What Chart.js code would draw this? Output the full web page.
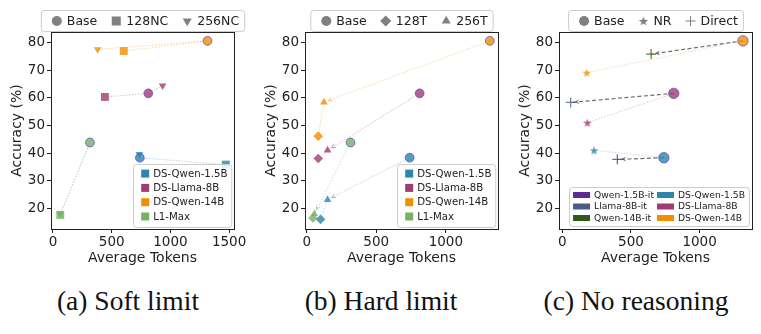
<!DOCTYPE html>
<html>
<head>
<meta charset="utf-8">
<script src="https://cdn.jsdelivr.net/npm/chart.js@4"></script>
<style>
  body { margin: 0; background: #fff; width: 761px; height: 334px; position: relative; overflow: hidden; }
  canvas { position: absolute; top: 0; }
  .cap { position: absolute; top: 287px; width: 240px; text-align: center; font-family: "Liberation Serif", serif; font-size: 27.5px; line-height: 27px; color: #111; white-space: nowrap; }
</style>
</head>
<body>
<canvas id="soft" width="254" height="270" style="left:0"></canvas>
<canvas id="hard" width="254" height="270" style="left:254px"></canvas>
<canvas id="nr" width="253" height="270" style="left:508px"></canvas>
<div class="cap" style="left:8px">(a) Soft limit</div>
<div class="cap" style="left:261px">(b) Hard limit</div>
<div class="cap" style="left:516px">(c) No reasoning</div>
<script>
// reasoning models
const models = ["DS-Qwen-1.5B", "DS-Llama-8B", "DS-Qwen-14B", "L1-Max"];
const modelColors = ["#2e86ab", "#a23b72", "#f18f01", "#76b060"];
const baseTokens = [740, 812, 1316, 315];
const baseAcc = [38.3, 61.6, 80.6, 43.8];

// (a) soft limit
const soft128Tokens = [1472, 442, 603, 62];
const soft128Acc = [35.8, 60.3, 76.9, 17.6];
const soft256Tokens = [735, 934, 380, 62];
const soft256Acc = [39.6, 64.4, 77.5, 18.0];

// (b) hard limit
const hard128Tokens = [100, 83, 83, 45];
const hard128Acc = [16.0, 38.0, 46.1, 16.5];
const hard256Tokens = [150, 150, 124, 55];
const hard256Acc = [23.1, 41.0, 58.4, 18.0];

// (c) no reasoning (first three models only)
const nrTokens = [231, 183, 178];
const nrAcc = [41.0, 51.0, 69.1];
const directModels = ["Qwen-1.5B-it", "Llama-8B-it", "Qwen-14B-it"];
const directColors = ["#5c2d91", "#4c5a8c", "#2f5a17"];
const directTokens = [401, 61, 647];
const directAcc = [37.7, 58.3, 75.8];

const yTicks = [20, 30, 40, 50, 60, 70, 80];
const xTicksSoft = [0, 500, 1000, 1500];
const xTicksShort = [0, 500, 1000];

Chart.defaults.font.family = '"DejaVu Sans", sans-serif';
Chart.defaults.color = "#222";
Chart.defaults.animation = false;

const hexA = (hex, a) => {
  const n = parseInt(hex.slice(1), 16);
  return `rgba(${(n >> 16) & 255},${(n >> 8) & 255},${n & 255},${a})`;
};

function starImage(color, r) {
  const c = document.createElement("canvas");
  const s = Math.ceil(r * 2 + 2);
  c.width = s; c.height = s;
  const g = c.getContext("2d");
  g.beginPath();
  for (let i = 0; i < 10; i++) {
    const rr = i % 2 ? r * 0.42 : r;
    const a = -Math.PI / 2 + i * Math.PI / 5;
    g.lineTo(s / 2 + rr * Math.cos(a), s / 2 + 0.5 + rr * Math.sin(a));
  }
  g.closePath();
  g.fillStyle = color;
  g.fill();
  return c;
}

const pts = (xs, ys) => xs.map((x, i) => ({ x, y: ys[i] }));

function markers(label, xs, ys, colors, style, radius, extra) {
  return Object.assign({
    label, data: pts(xs, ys), pointStyle: style, pointRadius: radius,
    backgroundColor: colors.map(c => hexA(c, 0.8)),
    borderColor: colors.map(c => hexA(c, 0.8)), borderWidth: 0, order: 1
  }, extra || {});
}

const baseEdge = { borderColor: "rgba(85,75,205,0.75)", borderWidth: 1 };

function link(x0, y0, x1, y1, color, dash, width, arrow) {
  return {
    data: [{ x: x0, y: y0 }, { x: x1, y: y1 }],
    showLine: true, borderColor: color, borderWidth: width, borderDash: dash,
    pointRadius: 0, pointHoverRadius: 0, order: 2, arrow
  };
}

function axes(xMin, xMax, xTicks) {
  return {
    x: {
      type: "linear", min: xMin, max: xMax,
      afterBuildTicks: s => { s.ticks = xTicks.map(v => ({ value: v })); },
      afterFit: s => { s.height = 41; s.paddingLeft = 0; s.paddingRight = 0; },
      grid: { drawOnChartArea: false, drawTicks: true, tickLength: 4, color: "#222" },
      border: { display: true, color: "#222" },
      ticks: { font: { size: 13.5 }, color: "#222", padding: 1, maxRotation: 0, autoSkip: false, callback: v => String(v) },
      title: { display: true, text: "Average Tokens", font: { size: 14 }, color: "#222", padding: { top: 0, bottom: 3 } }
    },
    y: {
      type: "linear", min: 12.5, max: 83.8,
      afterBuildTicks: s => { s.ticks = yTicks.map(v => ({ value: v })); },
      afterFit: s => { s.width = 51; s.paddingTop = 0; s.paddingBottom = 0; },
      grid: { drawOnChartArea: false, drawTicks: true, tickLength: 4, color: "#222" },
      border: { display: true, color: "#222" },
      ticks: { font: { size: 13.5 }, color: "#222", padding: 2, callback: v => String(v) },
      title: { display: true, text: "Accuracy (%)", font: { size: 14 }, color: "#222", padding: { top: 9, bottom: 0 } }
    }
  };
}

function roundBox(ctx, x, y, w, h) {
  ctx.beginPath();
  ctx.roundRect(x, y, w, h, 3);
  ctx.fillStyle = "rgba(255,255,255,0.85)";
  ctx.fill();
  ctx.strokeStyle = "#cccccc";
  ctx.lineWidth = 1;
  ctx.stroke();
}

function drawMarker(ctx, m, x, y) {
  if (m.img) { ctx.drawImage(m.img, x - m.img.width / 2, y - m.img.height / 2); return; }
  ctx.fillStyle = "#808080";
  ctx.strokeStyle = "#808080";
  Chart.helpers.drawPoint(ctx, { pointStyle: m.style, radius: m.radius, rotation: m.rotation || 0, borderWidth: m.border || 0 }, x, y);
}

function topLegend(chart, entries) {
  const ctx = chart.ctx, a = chart.chartArea;
  ctx.save();
  ctx.font = '12.5px "DejaVu Sans"';
  const w = entries.map(e => ctx.measureText(e.label).width);
  const total = 16 + w.reduce((s, v) => s + v, 0) + entries.length * 10 + (entries.length - 1) * 19 + 5;
  const left = (a.left + a.right) / 2 - total / 2;
  roundBox(ctx, left + 0.5, 10.5, total, 21);
  let px = left + 16;
  entries.forEach((e, i) => {
    drawMarker(ctx, e, px, 21);
    ctx.fillStyle = "#222";
    ctx.textBaseline = "middle";
    ctx.fillText(e.label, px + 10, 21.5);
    px += 10 + w[i] + 19;
  });
  ctx.restore();
}

function colorLegend(chart, cols, opts) {
  const ctx = chart.ctx, a = chart.chartArea;
  ctx.save();
  ctx.font = opts.font + 'px "DejaVu Sans"';
  const colW = cols.map(col => Math.max(...col.map(e => ctx.measureText(e.label).width)));
  let width = opts.pad;
  colW.forEach((cw, k) => { width += opts.sw + opts.gap + cw + (k < cols.length - 1 ? opts.colSep : 0); });
  width += 4;
  const rows = Math.max(...cols.map(c => c.length));
  const height = opts.rowTop * 2 + (rows - 1) * opts.rowStep;
  const left = a.right - opts.inset - width, top = a.bottom - opts.inset - height;
  roundBox(ctx, Math.round(left) + 0.5, Math.round(top) + 0.5, width, height);
  let cx = left + opts.pad;
  cols.forEach((col, k) => {
    col.forEach((e, r) => {
      const cy = top + opts.rowTop + r * opts.rowStep;
      ctx.fillStyle = e.color;
      ctx.fillRect(cx, cy - opts.sh / 2, opts.sw, opts.sh);
      ctx.fillStyle = "#222";
      ctx.textBaseline = "middle";
      ctx.fillText(e.label, cx + opts.sw + opts.gap, cy + 0.5);
    });
    cx += opts.sw + opts.gap + colW[k] + opts.colSep;
  });
  ctx.restore();
}

const framePlugin = {
  id: "frame",
  afterDatasetsDraw(chart) {
    const ctx = chart.ctx, a = chart.chartArea;
    // arrowheads on linked datasets
    chart.data.datasets.forEach((ds, i) => {
      if (!ds.arrow) return;
      const p = chart.getDatasetMeta(i).data;
      const s = p[0], e = p[p.length - 1];
      const ang = Math.atan2(e.y - s.y, e.x - s.x);
      const tx = e.x - Math.cos(ang) * ds.arrow.shrink, ty = e.y - Math.sin(ang) * ds.arrow.shrink;
      const L = ds.arrow.size;
      ctx.save();
      ctx.strokeStyle = ds.arrow.color;
      ctx.lineWidth = ds.arrow.width;
      ctx.beginPath();
      for (const sg of [-1, 1]) {
        ctx.moveTo(tx - Math.cos(ang + sg * 0.5) * L, ty - Math.sin(ang + sg * 0.5) * L);
        ctx.lineTo(tx, ty);
      }
      ctx.stroke();
      ctx.restore();
    });
    ctx.save();
    ctx.strokeStyle = "#222";
    ctx.lineWidth = 1;
    ctx.strokeRect(Math.round(a.left) + 0.5, Math.round(a.top) + 0.5, Math.round(a.right - a.left), Math.round(a.bottom - a.top));
    ctx.restore();
  }
};

const modelLegend = models.map((m, i) => ({ label: m, color: modelColors[i] }));
const smallLegendOpts = { font: 10.2, pad: 8, sw: 8, sh: 8, gap: 4, colSep: 0, rowTop: 10, rowStep: 14.3, inset: 2.5 };

function makeChart(id, datasets, xMin, xMax, xTicks, padRight, legendEntries, cols, lopts) {
  return new Chart(document.getElementById(id), {
    type: "scatter",
    data: { datasets },
    options: {
      responsive: false,
      events: [],
      layout: { padding: { left: 0, right: padRight, top: 32, bottom: 0 } },
      scales: axes(xMin, xMax, xTicks),
      plugins: { legend: { display: false }, tooltip: { enabled: false } }
    },
    plugins: [framePlugin, {
      id: "legends",
      afterDraw(chart) {
        topLegend(chart, legendEntries);
        colorLegend(chart, cols, lopts);
      }
    }]
  });
}

// (a) Soft limit
const softSets = [
  markers("Base", baseTokens, baseAcc, modelColors, "circle", 4.4, baseEdge),
  markers("128NC", soft128Tokens, soft128Acc, modelColors, "rect", 5.6),
  markers("256NC", soft256Tokens, soft256Acc, modelColors, "triangle", 4.4, { rotation: 180 })
];
models.forEach((m, i) => {
  const c = hexA(modelColors[i], 0.35);
  softSets.push(link(baseTokens[i], baseAcc[i], soft128Tokens[i], soft128Acc[i], c, [1.5, 1.5], 1));
  softSets.push(link(baseTokens[i], baseAcc[i], soft256Tokens[i], soft256Acc[i], c, [1.5, 1.5], 1));
});
makeChart("soft", softSets, -17, 1542, xTicksSoft, 20,
  [{ label: "Base", style: "circle", radius: 5 }, { label: "128NC", style: "rect", radius: 6.4 }, { label: "256NC", style: "triangle", radius: 5.2, rotation: 180 }],
  [modelLegend], smallLegendOpts);

// (b) Hard limit: base -> 256T -> 128T
const hardSets = [
  markers("Base", baseTokens, baseAcc, modelColors, "circle", 4.4, baseEdge),
  markers("128T", hard128Tokens, hard128Acc, modelColors, "rectRot", 4.8),
  markers("256T", hard256Tokens, hard256Acc, modelColors, "triangle", 4.4)
];
models.forEach((m, i) => {
  const c = hexA(modelColors[i], 0.35);
  const head = { color: hexA(modelColors[i], 0.55), width: 1, size: 4, shrink: 5 };
  hardSets.push(link(baseTokens[i], baseAcc[i], hard256Tokens[i], hard256Acc[i], c, [1.5, 1.5], 1, head));
  hardSets.push(link(hard256Tokens[i], hard256Acc[i], hard128Tokens[i], hard128Acc[i], c, [1.5, 1.5], 1));
});
makeChart("hard", hardSets, -12, 1375, xTicksShort, 10,
  [{ label: "Base", style: "circle", radius: 5 }, { label: "128T", style: "rectRot", radius: 5.6 }, { label: "256T", style: "triangle", radius: 5.2 }],
  [modelLegend], smallLegendOpts);

// (c) No reasoning
const nrColors = modelColors.slice(0, 3);
const nrSets = [
  markers("Base", baseTokens.slice(0, 3), baseAcc.slice(0, 3), nrColors, "circle", 5.2, baseEdge),
  markers("NR", nrTokens, nrAcc, nrColors, nrColors.map(c => starImage(hexA(c, 0.8), 4.6)), 4.6),
  markers("Direct", directTokens, directAcc, directColors, "cross", 5, { borderWidth: 1.2 })
];
nrColors.forEach((c, i) => {
  nrSets.push(link(baseTokens[i], baseAcc[i], nrTokens[i], nrAcc[i], hexA(c, 0.3), [1.5, 1.5], 1));
  nrSets.push(link(baseTokens[i], baseAcc[i], directTokens[i], directAcc[i], "rgba(85,85,85,0.85)", [4, 2.5], 1.2, { color: "rgba(85,85,85,0.9)", width: 1, size: 3.5, shrink: 5 }));
});
makeChart("nr", nrSets, -24, 1382, xTicksShort, 9,
  [{ label: "Base", style: "circle", radius: 5 }, { label: "NR", img: starImage("#808080", 5) }, { label: "Direct", style: "cross", radius: 5, border: 1 }],
  [directModels.map((m, i) => ({ label: m, color: directColors[i] })), models.slice(0, 3).map((m, i) => ({ label: m, color: modelColors[i] }))],
  { font: 9.2, pad: 4, sw: 17, sh: 6, gap: 4, colSep: 3, rowTop: 8, rowStep: 11.5, inset: 3 });
</script>
</body>
</html>
